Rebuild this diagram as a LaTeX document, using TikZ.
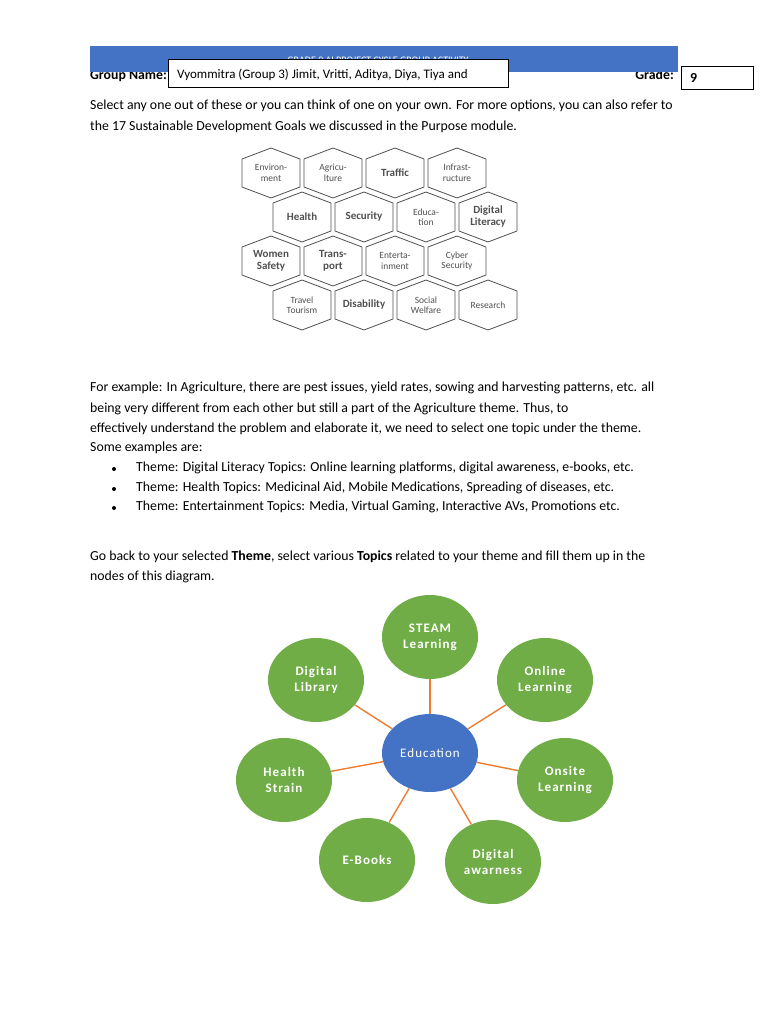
\documentclass[tikz,border=0pt]{standalone}
\usepackage{fontspec}
\setmainfont{Carlito}
\newfontfamily\mapfont[LetterSpace=8]{Carlito}
\usetikzlibrary{shapes.geometric}

\definecolor{hdrblue}{HTML}{4472C4}
\definecolor{leafgreen}{HTML}{70AD47}
\definecolor{linkorange}{HTML}{ED7D31}
\definecolor{hexgray}{HTML}{505050}

\tikzset{
  body/.style={anchor=base west, inner sep=0pt, font=\fontsize{13.8}{16}\selectfont},
  hexline/.style={draw=hexgray, line width=0.8pt, line join=round},
  hexlt/.style={text=hexgray, align=center, inner sep=0pt, font=\fontsize{9.5}{10.5}\selectfont},
  hexbf/.style={text=hexgray, align=center, inner sep=0pt, font=\fontsize{11}{12}\selectfont\bfseries},
  leaf/.style={ellipse, fill=leafgreen, text=white, align=center, inner sep=0pt,
    minimum width=96pt, minimum height=84pt, font=\fontsize{13}{16}\mapfont\bfseries},
  hub/.style={ellipse, fill=hdrblue, text=white, inner sep=0pt,
    minimum width=96pt, minimum height=78pt, font=\fontsize{13}{15}\mapfont},
  link/.style={draw=linkorange, line width=1.4pt}
}

\begin{document}
\begin{tikzpicture}[x=1pt, y=-1pt]
  \useasboundingbox[fill=white] (0,0) rectangle (768,1024);

  % Header
  \node[body, font=\fontsize{13.8}{16}\selectfont\bfseries] (grpname) at (90,80) {Group Name:};
  \node[anchor=base east, inner sep=0pt, font=\fontsize{13.8}{16}\selectfont\bfseries] (grade) at (674,80) {Grade:};
  \fill[hdrblue] (90,46) rectangle (678,72);
  \node[anchor=base, inner sep=0pt, text=white, font=\fontsize{10}{12}\selectfont] (title) at (378,64)
    {GRADE 9 AI PROJECT CYCLE GROUP ACTIVITY};
  \draw[fill=white, line width=0.8pt] (168,59) rectangle (508,87);
  \node[body, font=\fontsize{13}{16}\selectfont] (members) at (177,79) {Vyommitra (Group 3) Jimit, Vritti, Aditya, Diya, Tiya and};
  \draw[fill=white, line width=0.8pt] (681,66) rectangle (753,89);
  \node[body, font=\fontsize{13.8}{16}\selectfont\bfseries] (gradeval) at (690,83) {9};

  % Intro text
  \node[body] (intro1) at (90,110) {Select any one out of these or you can think of one on your own. For more options, you can also refer to};
  \node[body] (intro2) at (90,131) {the 17 Sustainable Development Goals we discussed in the Purpose module.};

  % Hexagon grid
  \foreach \x/\y in {271/173,333/173,395/173,457/173,
                     302/217,364/217,426/217,488/217,
                     271/261,333/261,395/261,457/261,
                     302/305,364/305,426/305,488/305}
    \draw[hexline] (\x,\y) ++(0,-25) -- ++(29,11) -- ++(0,28) -- ++(-29,11)
      -- ++(-29,-11) -- ++(0,-28) -- cycle;

  \foreach \x/\y/\n/\t in {271/173/env/{Environ-\\ment}, 333/173/agri/{Agricu-\\lture},
                           457/173/infra/{Infrast-\\ructure}, 426/217/edu/{Educa-\\tion},
                           395/261/ent/{Enterta-\\inment}, 457/261/cyber/{Cyber\\Security},
                           302/305/travel/{Travel\\Tourism}, 426/305/social/{Social\\Welfare},
                           488/305/research/{Research}}
    \node[hexlt] (hex-\n) at (\x,\y) {\t};

  \foreach \x/\y/\n/\t in {395/173/traffic/{Traffic}, 302/217/health/{Health},
                           364/217/security/{Security}, 488/217/diglit/{Digital\\Literacy},
                           271/261/women/{Women\\Safety}, 333/261/transport/{Trans-\\port},
                           364/305/disab/{Disability}}
    \node[hexbf] (hex-\n) at (\x,\y) {\t};

  % Example text
  \node[body] (ex1) at (90,391) {For example: In Agriculture, there are pest issues, yield rates, sowing and harvesting patterns, etc. all};
  \node[body] (ex2) at (90,412) {being very different from each other but still a part of the Agriculture theme. Thus, to};
  \node[body] (ex3) at (90,432) {effectively understand the problem and elaborate it, we need to select one topic under the theme.};
  \node[body] (ex4) at (90,451) {Some examples are:};

  \foreach \y/\n/\t in {471/b1/{Theme: Digital Literacy Topics: Online learning platforms, digital awareness, e-books, etc.},
                        491/b2/{Theme: Health Topics: Medicinal Aid, Mobile Medications, Spreading of diseases, etc.},
                        510/b3/{Theme: Entertainment Topics: Media, Virtual Gaming, Interactive AVs, Promotions etc.}}
  {
    \fill (114,\y-2) circle (2pt);
    \node[body] (\n) at (136,\y) {\t};
  }

  \node[body] (go1) at (90,560) {Go back to your selected \textbf{Theme}, select various \textbf{Topics} related to your theme and fill them up in the};
  \node[body] (go2) at (90,580) {nodes of this diagram.};

  % Mind map
  \node[hub] (hub) at (430,753) {Education};
  \node[leaf] (steam) at (430,637) {STEAM\\Learning};
  \node[leaf] (online) at (545,680) {Online\\Learning};
  \node[leaf] (onsite) at (565,780) {Onsite\\Learning};
  \node[leaf] (aware) at (493,862) {Digital\\awarness};
  \node[leaf] (ebooks) at (367,860) {E-Books};
  \node[leaf] (strain) at (284,780) {Health\\Strain};
  \node[leaf] (library) at (316,680) {Digital\\Library};

  \foreach \n in {steam,online,onsite,aware,ebooks,strain,library}
    \draw[link] (hub) -- (\n);
\end{tikzpicture}
\end{document}
